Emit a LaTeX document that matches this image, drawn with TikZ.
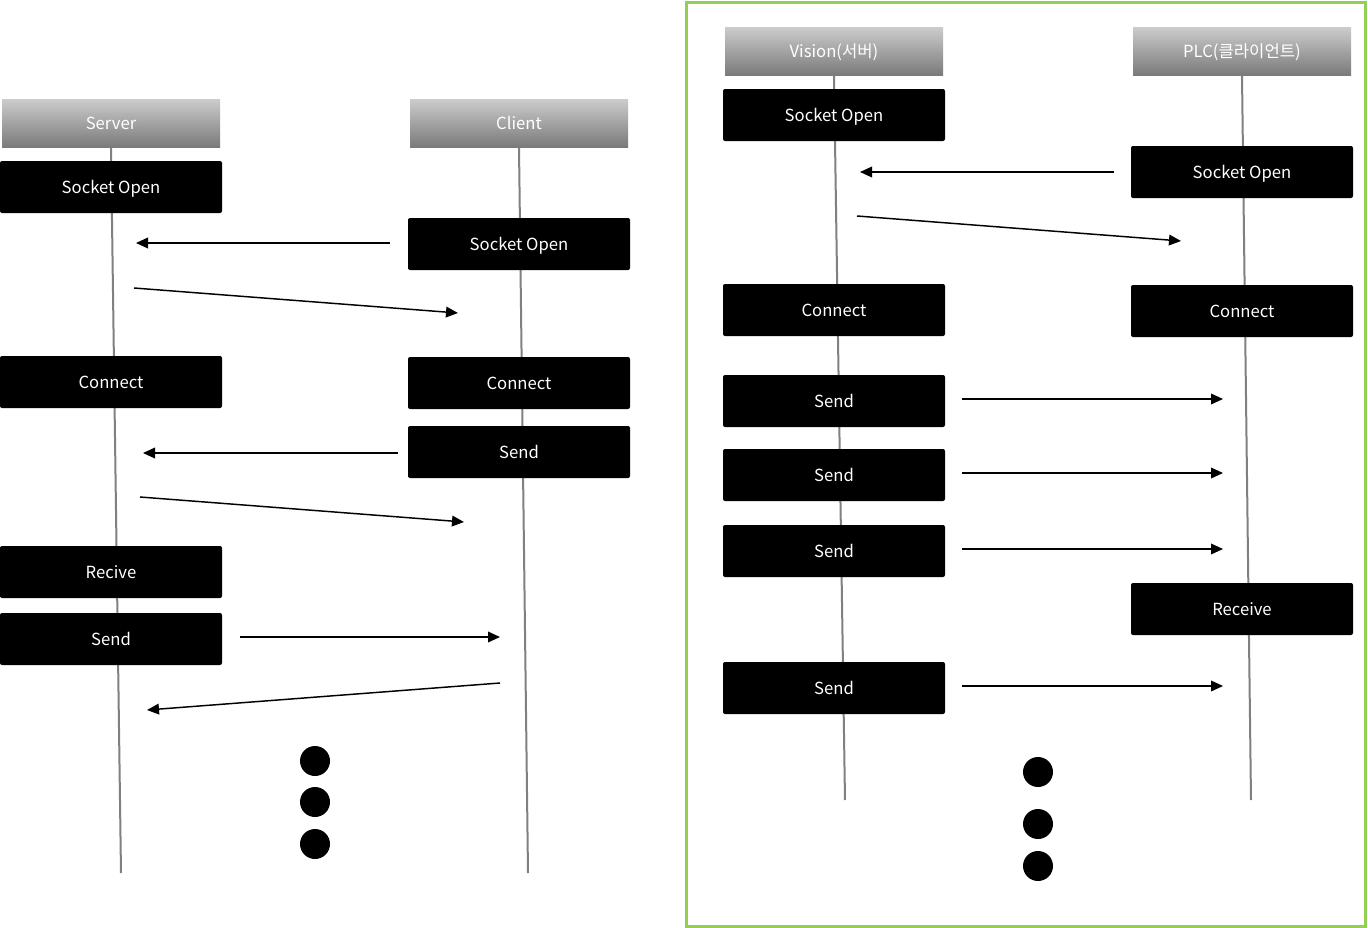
\documentclass[tikz,border=0pt]{standalone}
\usepackage{fontspec}
\setmainfont{Noto Sans CJK KR}
\usepackage{tikz}
\usetikzlibrary{arrows.meta, positioning}
\definecolor{framegreen}{RGB}{146,208,80}
\tikzset{
  head/.style={minimum width=163.5pt, minimum height=36pt, inner sep=0pt, text height=9pt, text depth=0pt,
    top color=black!20, bottom color=black!52, text=white, font=\fontsize{12.5}{14}\selectfont},
  stepbox/.style={fill=black, rounded corners=1.5pt, minimum width=166.5pt, minimum height=39pt,
    inner sep=0pt, text height=9pt, text depth=0pt, text=white, font=\fontsize{12.5}{14}\selectfont},
  life/.style={draw=black!50, line width=1.5pt},
  msg/.style={-{Triangle[length=9pt,width=8pt]}, line width=1.1pt},
  dot/.style={circle, fill=black, minimum size=22.5pt, inner sep=0pt},
}

\begin{document}
\begin{tikzpicture}[x=0.75pt, y=-0.75pt]
        \useasboundingbox (0,0) rectangle (1368,928);

        % left: server / client
        \node[head] (srv) at (111,123) {Server};
        \node[head] (cli) at (519,123) {Client};
        \coordinate (srvEnd) at (121,873);
        \coordinate (cliEnd) at (528,873);
        \draw[life] (srv.south) -- (srvEnd);
        \draw[life] (cli.south) -- (cliEnd);

        \node[stepbox] (sso) at (111,187) {Socket Open};
        \node[stepbox] (cso) at (519,244) {Socket Open};
        \node[stepbox] (scon) at (111,382) {Connect};
        \node[stepbox] (ccon) at (519,383) {Connect};
        \node[stepbox] (csend) at (519,452) {Send};
        \node[stepbox] (srec) at (111,572) {Recive};
        \node[stepbox] (ssend) at (111,639) {Send};

        \coordinate (a1) at (390,243); \coordinate (b1) at (136,243);
        \coordinate (a2) at (134,288); \coordinate (b2) at (458,313);
        \coordinate (a3) at (398,453); \coordinate (b3) at (143,453);
        \coordinate (a4) at (140,497); \coordinate (b4) at (464,522);
        \coordinate (a5) at (240,637); \coordinate (b5) at (500,637);
        \coordinate (a6) at (500,683); \coordinate (b6) at (147,710);
        \foreach \i in {1,...,6}
          \draw[msg] (a\i) -- (b\i);

        \node[dot] (d1) at (315,761) {};
        \node[dot] (d2) at (315,802) {};
        \node[dot] (d3) at (315,844) {};

        % right: vision / plc
        \draw[framegreen, line width=2.25pt] (686,2) rectangle (1365,926);
        \node[head] (vis) at (834,51) {Vision(서버)};
        \node[head] (plc) at (1242,51) {PLC(클라이언트)};
        \coordinate (visEnd) at (845,800);
        \coordinate (plcEnd) at (1251,800);
        \draw[life] (vis.south) -- (visEnd);
        \draw[life] (plc.south) -- (plcEnd);

        \node[stepbox] (vso) at (834,115) {Socket Open};
        \node[stepbox] (pso) at (1242,172) {Socket Open};
        \node[stepbox] (vcon) at (834,310) {Connect};
        \node[stepbox] (pcon) at (1242,311) {Connect};
        \node[stepbox] (vs1) at (834,401) {Send};
        \node[stepbox] (vs2) at (834,475) {Send};
        \node[stepbox] (vs3) at (834,551) {Send};
        \node[stepbox] (prec) at (1242,609) {Receive};
        \node[stepbox] (vs4) at (834,688) {Send};

        \coordinate (p1) at (1114,172); \coordinate (q1) at (860,172);
        \coordinate (p2) at (857,216); \coordinate (q2) at (1181,241);
        \coordinate (p3) at (962,399); \coordinate (q3) at (1223,399);
        \coordinate (p4) at (962,473); \coordinate (q4) at (1223,473);
        \coordinate (p5) at (962,549); \coordinate (q5) at (1223,549);
        \coordinate (p6) at (962,686); \coordinate (q6) at (1223,686);
        \foreach \i in {1,...,6}
          \draw[msg] (p\i) -- (q\i);

        \node[dot] (e1) at (1038,772) {};
        \node[dot] (e2) at (1038,824) {};
        \node[dot] (e3) at (1038,866) {};
\end{tikzpicture}
\end{document}
